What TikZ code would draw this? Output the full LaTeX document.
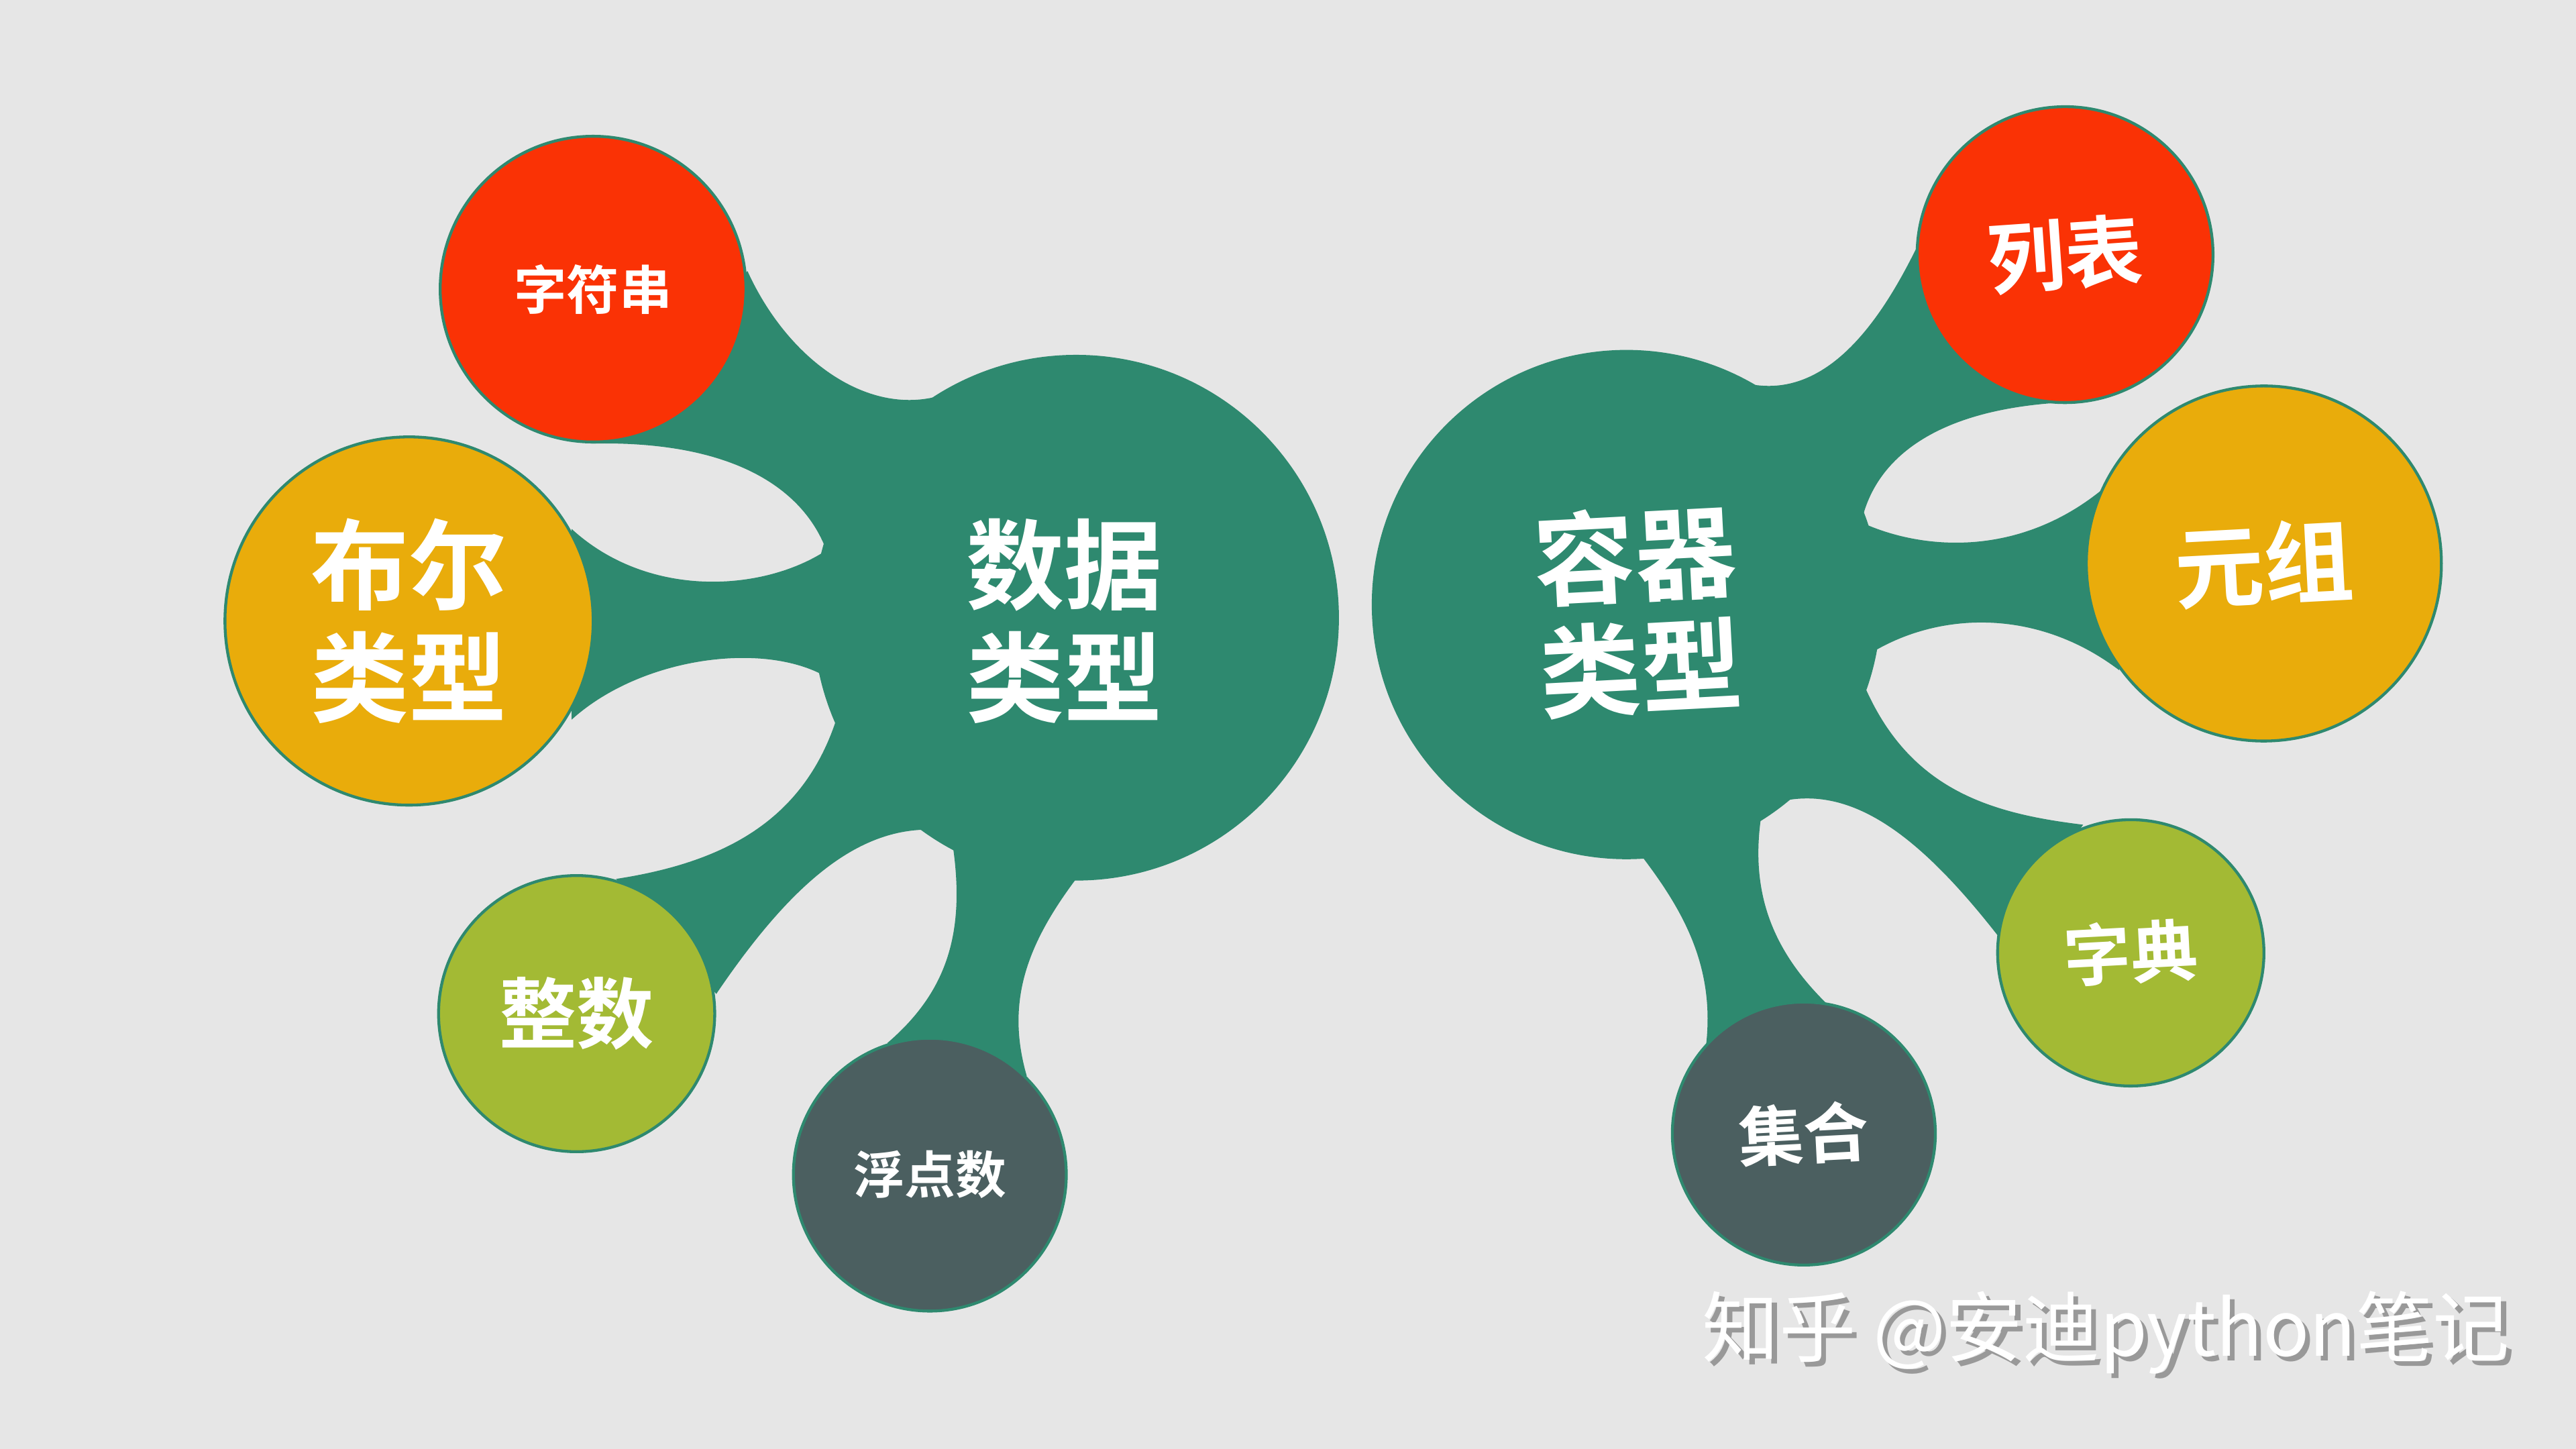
\documentclass[tikz,border=0pt]{standalone}
\usepackage{fontspec}
\usepackage{tikz}

\newfontfamily\cjk{Noto Sans CJK SC}[BoldFont={Noto Sans CJK SC Bold}]

\definecolor{paper}{HTML}{E6E6E6}
\definecolor{hub}{HTML}{2E896F}
\definecolor{redball}{HTML}{FA3205}
\definecolor{goldball}{HTML}{E9AC0B}
\definecolor{oliveball}{HTML}{A3BA34}
\definecolor{slateball}{HTML}{4B5F60}

\tikzset{
    bubble/.style={circle, inner sep=0pt, draw=hub, line width=0.5pt, text=white, align=center},
    word/.style={text=white, align=center, inner sep=0pt},
    cjkfont/.style 2 args={font=\cjk\bfseries\fontsize{#1}{#2}\selectfont},
}

\begin{document}
\begin{tikzpicture}[x=0.01cm, y=-0.01cm]
    \fill[paper] (0,0) rectangle (1568,882);

    % left cluster
    \fill[hub] (655,376) circle (160);
    \fill[hub] (575,240) .. controls (530,255) and (480,220) .. (455,165)
        -- (360,270) .. controls (450,268) and (490,300) .. (503,335)
        .. controls (465,360) and (395,365) .. (348,322)
        -- (348,438) .. controls (390,400) and (465,390) .. (503,412)
        -- (510,435) .. controls (490,500) and (440,525) .. (375,535)
        -- (436,605) .. controls (480,540) and (520,505) .. (565,505)
        -- (580,515) .. controls (588,570) and (575,605) .. (540,635)
        -- (625,655) .. controls (612,610) and (625,575) .. (655,535)
        -- (655,376) -- cycle;

    % right cluster
    \fill[hub] (990,368) circle (155);
    \fill[hub] (1058,232) .. controls (1110,248) and (1145,195) .. (1167,150)
        -- (1255,245) .. controls (1170,250) and (1140,285) .. (1133,318)
        .. controls (1170,335) and (1230,340) .. (1282,296)
        -- (1290,408) .. controls (1240,370) and (1180,372) .. (1138,398)
        -- (1133,413) .. controls (1160,480) and (1210,495) .. (1268,502)
        -- (1218,572) .. controls (1170,510) and (1130,480) .. (1088,487)
        -- (1072,497) .. controls (1065,545) and (1080,580) .. (1113,612)
        -- (1038,640) .. controls (1045,590) and (1025,555) .. (1000,522)
        -- (990,368) -- cycle;

    \node[word, cjkfont={17}{19.5}] (data) at (648,378) {数据\\类型};
    \node[word, cjkfont={17.5}{19.5}, rotate=3] (box) at (997,372) {容器\\类型};

    % left bubbles
    \node[bubble, fill=redball, minimum size=1.86cm, cjkfont={9.1}{11}] (str) at (361,176) {字符串};
    \node[bubble, fill=goldball, minimum size=2.24cm, cjkfont={17}{19.5}] (bool) at (249,378) {布尔\\类型};
    \node[bubble, fill=oliveball, minimum size=1.68cm, cjkfont={13.4}{15}] (int) at (351,617) {整数};
    \node[bubble, fill=slateball, minimum size=1.66cm, cjkfont={8.8}{10}] (float) at (566,715) {浮点数};

    % right bubbles
    \node[bubble, fill=redball, minimum size=1.80cm, cjkfont={13.4}{15}, rotate=4] (list) at (1257,155) {列表};
    \node[bubble, fill=goldball, minimum size=2.16cm, cjkfont={15.5}{17}, rotate=3] (tuple) at (1378,343) {元组};
    \node[bubble, fill=oliveball, minimum size=1.62cm, cjkfont={11.6}{13}, rotate=3] (dict) at (1297,580) {字典};
    \node[bubble, fill=slateball, minimum size=1.60cm, cjkfont={11.3}{13}, rotate=3] (set) at (1098,690) {集合};

    % watermark
    \node[text=black!40, font=\cjk\fontsize{13.3}{15}\selectfont, inner sep=0pt] (markshade) at (1285,814) {知乎 @安迪python笔记};
    \node[text=white, font=\cjk\fontsize{13.3}{15}\selectfont, inner sep=0pt] (mark) at (1282,811) {知乎 @安迪python笔记};
\end{tikzpicture}
\end{document}
